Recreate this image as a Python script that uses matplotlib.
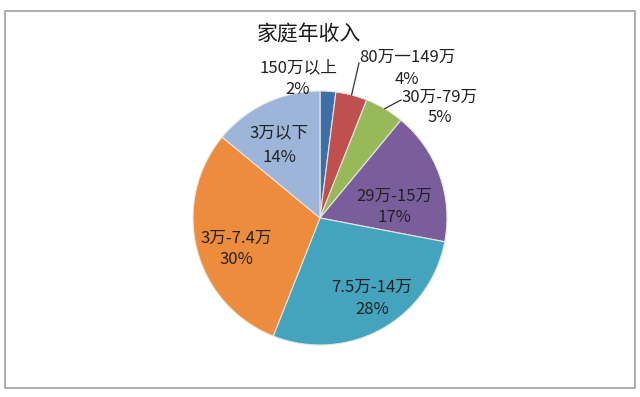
import numpy as np
import matplotlib.pyplot as plt
from matplotlib.patches import Rectangle

plt.rcParams['font.family'] = ['Noto Sans CJK SC', 'DejaVu Sans']

title = '家庭年收入'
labels = ['150万以上', '80万一149万', '30万-79万', '29万-15万', '7.5万-14万', '3万-7.4万', '3万以下']
shares = [2, 4, 5, 17, 28, 30, 14]
colors = ['#3C6EA8', '#C0504D', '#98B957', '#7A5E9C', '#44A3BD', '#EC8C3C', '#9DB5D8']

# label layout in pixels (x, y of first line, y of second line), image coords from top
label_pos = [(298, 68, 90), (407, 57, 80), (440, 97, 118), (394, 196, 218),
             (372, 287, 310), (236, 238, 259), (279, 133, 157)]
leader_end = {1: (359, 63), 2: (401, 100)}

W, H = 640, 397
cx, cy, R = 320, 218, 127

fig = plt.figure(figsize=(W / 100, H / 100), dpi=100)
ax = fig.add_axes([0, 0, 1, 1])

def fy(py):
    return H - py

wedges, _ = ax.pie(shares, colors=colors, startangle=90, counterclock=False,
                   center=(cx, fy(cy)), radius=R, frame=True,
                   wedgeprops=dict(edgecolor='#e6e6e6', linewidth=0.8))
ax.set_xlim(0, W)
ax.set_ylim(0, H)
ax.axis('off')

ax.add_patch(Rectangle((4.5, fy(387.5)), 630, 377, fill=False,
                       edgecolor='#999999', linewidth=1.1))

ax.text(309, fy(35), title, ha='center', va='center', fontsize=15, color='#1a1a1a')

for i, (lab, val) in enumerate(zip(labels, shares)):
    x, y1, y2 = label_pos[i]
    ax.text(x, fy(y1), lab, ha='center', va='center', fontsize=12, color='#222222')
    ax.text(x, fy(y2), f'{val}%', ha='center', va='center', fontsize=12, color='#222222')

for i, (ex, ey) in leader_end.items():
    w = wedges[i]
    mid = np.deg2rad((w.theta1 + w.theta2) / 2)
    sx = cx + R * np.cos(mid)
    sy = fy(cy) + R * np.sin(mid)
    ax.plot([sx, ex], [sy, fy(ey)], color='#333333', linewidth=0.9)

fig.savefig('out.png', dpi=100)
